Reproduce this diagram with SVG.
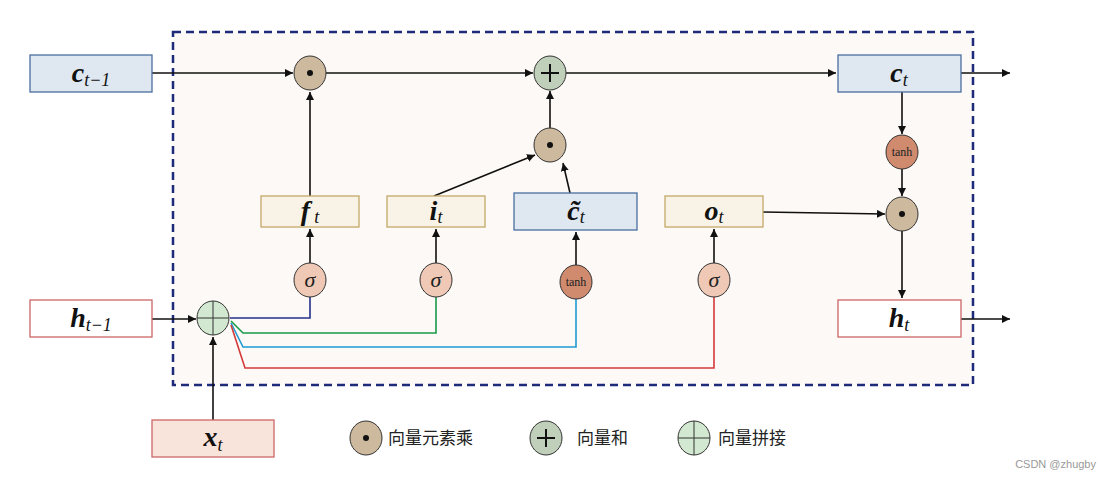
<svg xmlns="http://www.w3.org/2000/svg" width="1100" height="479" viewBox="0 0 1100 479">
<defs>
<marker id="a" viewBox="0 0 10 10" refX="10" refY="5" markerWidth="8" markerHeight="8" markerUnits="userSpaceOnUse" orient="auto"><path d="M0,0L10,5L0,10z" fill="#111"/></marker>
<style>
.m{font-family:"Liberation Serif",serif;font-weight:bold;font-style:italic;font-size:28px;fill:#111;text-anchor:middle}
.s{font-size:18px;font-weight:normal}
.ln{stroke:#111;stroke-width:1.6;fill:none}
.mul{fill:#cdb99d;stroke:#333;stroke-width:1}
.add{fill:#bfcfb9;stroke:#333;stroke-width:1}
.cat{fill:#d3e8d0;stroke:#333;stroke-width:1}
.sig{fill:#efc9b5;stroke:#333;stroke-width:1}
.th{fill:#d08a6e;stroke:#333;stroke-width:1}
.tt{font-family:"Liberation Serif",serif;font-size:12px;fill:#222;text-anchor:middle}
.sg{font-family:"Liberation Serif",serif;font-style:italic;font-size:22px;fill:#222;text-anchor:middle}
.blue{fill:#dfe8f1;stroke:#4a6ea0;stroke-width:1.3}
.yel{fill:#f8f3e6;stroke:#c4a868;stroke-width:1.3}
.red{fill:#fff;stroke:#cc6666;stroke-width:1.3}
.cn{font-family:"Noto Sans CJK SC",sans-serif;font-size:17px;fill:#222}
</style>
</defs>
<rect width="1100" height="479" fill="#fff"/>
<rect x="173" y="32" width="800" height="353" fill="#fcf9f6" stroke="#1e2a7a" stroke-width="2.5" stroke-dasharray="8,5"/>
<g id="connectors">
<path class="ln" d="M152,73H293" marker-end="url(#a)"/>
<path class="ln" d="M326,73H533" marker-end="url(#a)"/>
<path class="ln" d="M566,73H836" marker-end="url(#a)"/>
<path class="ln" d="M961,73H1010" marker-end="url(#a)"/>
<path class="ln" d="M961,319H1010" marker-end="url(#a)"/>
<path class="ln" d="M310,196V92" marker-end="url(#a)"/>
<path class="ln" d="M550,129V91" marker-end="url(#a)"/>
<path class="ln" d="M434,196L535,155" marker-end="url(#a)"/>
<path class="ln" d="M570,193L563,163" marker-end="url(#a)"/>
<path class="ln" d="M310,263V229" marker-end="url(#a)"/>
<path class="ln" d="M436,263V229" marker-end="url(#a)"/>
<path class="ln" d="M576,265V232" marker-end="url(#a)"/>
<path class="ln" d="M714,263V229" marker-end="url(#a)"/>
<path class="ln" d="M763,212L885,214" marker-end="url(#a)"/>
<path class="ln" d="M902,92V134" marker-end="url(#a)"/>
<path class="ln" d="M902,169V196" marker-end="url(#a)"/>
<path class="ln" d="M902,231V298" marker-end="url(#a)"/>
<path class="ln" d="M152,319H196" marker-end="url(#a)"/>
<path class="ln" d="M213,420V337" marker-end="url(#a)"/>
<path d="M230,318H310V297" fill="none" stroke="#24308a" stroke-width="1.6"/>
<path d="M231,321L243,333H436V297" fill="none" stroke="#1a9a4a" stroke-width="1.6"/>
<path d="M231,323L243,347H576V299" fill="none" stroke="#1e9ad2" stroke-width="1.6"/>
<path d="M231,325L245,368H714V297" fill="none" stroke="#d43a3a" stroke-width="1.6"/>
</g>
<g id="c_prev"><rect class="blue" x="30" y="55" width="122" height="37"/><text class="m" x="91" y="82">c<tspan class="s" dy="4">t−1</tspan></text></g>
<g id="h_prev"><rect class="red" x="30" y="300" width="122" height="37"/><text class="m" x="91" y="327">h<tspan class="s" dy="4">t−1</tspan></text></g>
<g id="x_t"><rect x="152" y="420" width="122" height="37" fill="#f9e4dc" stroke="#cc6666" stroke-width="1.3"/><text class="m" x="213" y="446">x<tspan class="s" dy="5">t</tspan></text></g>
<g id="c_t"><rect class="blue" x="838" y="55" width="123" height="37"/><text class="m" x="899" y="82">c<tspan class="s" dy="4">t</tspan></text></g>
<g id="h_t"><rect class="red" x="838" y="300" width="123" height="37"/><text class="m" x="899" y="327">h<tspan class="s" dy="4">t</tspan></text></g>
<g id="f_t"><rect class="yel" x="261" y="196" width="98" height="31"/><text class="m" x="310" y="220">f<tspan class="s" dx="4" dy="3">t</tspan></text></g>
<g id="i_t"><rect class="yel" x="387" y="196" width="98" height="31"/><text class="m" x="436" y="220">i<tspan class="s" dy="3">t</tspan></text></g>
<g id="ctilde"><rect class="blue" x="514" y="193" width="123" height="37"/><text class="m" x="576" y="220">c̃<tspan class="s" dy="3">t</tspan></text></g>
<g id="o_t"><rect class="yel" x="665" y="196" width="98" height="31"/><text class="m" x="714" y="220">o<tspan class="s" dy="3">t</tspan></text></g>
<g id="mul1"><ellipse class="mul" cx="310" cy="73" rx="16" ry="17"/><circle cx="310" cy="73" r="3" fill="#111"/></g>
<g id="add1"><ellipse class="add" cx="550" cy="73" rx="16" ry="17"/><path d="M541,73H559M550,64V82" stroke="#111" stroke-width="2"/></g>
<g id="mul2"><ellipse class="mul" cx="550" cy="145" rx="16" ry="17"/><circle cx="550" cy="145" r="3" fill="#111"/></g>
<g id="sig_f"><ellipse class="sig" cx="310" cy="280" rx="16" ry="17"/><text class="sg" x="310" y="287">σ</text></g>
<g id="sig_i"><ellipse class="sig" cx="436" cy="280" rx="16" ry="17"/><text class="sg" x="436" y="287">σ</text></g>
<g id="tanh_c"><ellipse class="th" cx="576" cy="282" rx="16" ry="17"/><text class="tt" x="576" y="286">tanh</text></g>
<g id="sig_o"><ellipse class="sig" cx="714" cy="280" rx="16" ry="17"/><text class="sg" x="714" y="287">σ</text></g>
<g id="tanh_h"><ellipse class="th" cx="902" cy="152" rx="16" ry="17"/><text class="tt" x="902" y="156">tanh</text></g>
<g id="mul3"><ellipse class="mul" cx="902" cy="214" rx="16" ry="17"/><circle cx="902" cy="214" r="3" fill="#111"/></g>
<g id="concat"><ellipse class="cat" cx="213" cy="318" rx="16" ry="17"/><path d="M197,318H229M213,301V335" stroke="#333" stroke-width="1"/></g>
<g id="legend">
<ellipse class="mul" cx="366" cy="438" rx="16" ry="17"/><circle cx="366" cy="438" r="3" fill="#111"/>
<text class="cn" x="388" y="444">向量元素乘</text>
<ellipse class="add" cx="546" cy="438" rx="16" ry="17"/><path d="M537,438H555M546,429V447" stroke="#111" stroke-width="2"/>
<text class="cn" x="577" y="444">向量和</text>
<ellipse class="cat" cx="694" cy="438" rx="16" ry="17"/><path d="M678,438H710M694,421V455" stroke="#333" stroke-width="1"/>
<text class="cn" x="718" y="444">向量拼接</text>
</g>
<text x="1096" y="468" font-family="Liberation Sans,sans-serif" font-size="11" fill="#999" text-anchor="end">CSDN @zhugby</text>
</svg>
